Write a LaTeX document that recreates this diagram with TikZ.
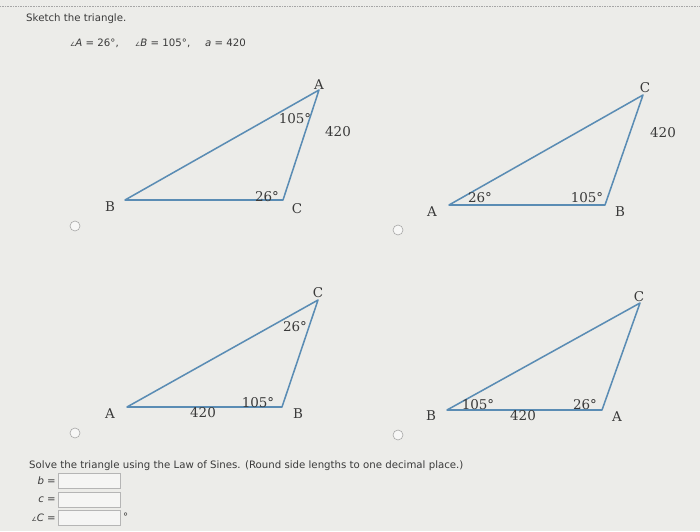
\documentclass[tikz,border=0pt]{standalone}
\usepackage{fontspec}
\setmainfont{DejaVu Serif}
\setsansfont{DejaVu Sans}
\usepackage{tikz}
\definecolor{tblue}{HTML}{5A8CB4}
\definecolor{pagebg}{HTML}{ECECE9}
\definecolor{ink}{HTML}{3A3A3A}
\definecolor{boxgray}{HTML}{B5B5B5}

\tikzset{
    side/.style={draw=tblue, line width=1.3pt, line join=round},
    lbl/.style={font=\fontsize{11.5}{13}\selectfont, text=ink, inner sep=0pt},
    qtext/.style={font=\sffamily\fontsize{8.7}{10}\selectfont, text=ink, inner sep=0pt},
    radio/.style={circle, draw=gray!70, fill=white!60!pagebg, minimum size=0.3cm, inner sep=0pt, line width=0.5pt},
    ansbox/.style={draw=boxgray, fill=white!50!pagebg, minimum width=1.86cm, minimum height=0.45cm, inner sep=0pt, line width=0.5pt}
}
\newcommand{\angmark}{{\fontsize{5}{6}\selectfont ∠}}

\begin{document}
\begin{tikzpicture}[x=0.03cm, y=-0.03cm]
            \fill[pagebg] (0,0) rectangle (700,531);
            \useasboundingbox (0,0) rectangle (700,531);
            \draw[densely dotted, gray!70] (0,6) -- (700,6);
            % question
            \node[qtext, anchor=west] (title) at (26,19) {Sketch the triangle.};
            \node[qtext, anchor=west] (gA) at (70,43) {\angmark\textit{A} = 26°,};
            \node[qtext, anchor=west] (gB) at (135,43) {\angmark\textit{B} = 105°,};
            \node[qtext, anchor=west] (ga) at (205,43) {\textit{a} = 420};
            % option 1
            \coordinate (b1) at (125,200);
            \coordinate (c1) at (283,200);
            \coordinate (a1) at (319,90);
            \draw[side] (b1) -- (c1) -- (a1) -- cycle;
            \node[lbl] (la1) at (319,85) {A};
            \node[lbl] (lb1) at (110,207) {B};
            \node[lbl] (lc1) at (297,209) {C};
            \node[lbl] (ta1) at (295,119) {105°};
            \node[lbl] (tc1) at (267,197) {26°};
            \node[lbl] (s1) at (338,132) {420};
            \node[radio] (opt1) at (75,226) {};
            % option 2
            \coordinate (a2) at (449,205);
            \coordinate (b2) at (605,205);
            \coordinate (c2) at (643,95);
            \draw[side] (a2) -- (b2) -- (c2) -- cycle;
            \node[lbl] (la2) at (432,212) {A};
            \node[lbl] (lb2) at (620,212) {B};
            \node[lbl] (lc2) at (645,88) {C};
            \node[lbl] (ta2) at (480,198) {26°};
            \node[lbl] (tb2) at (587,198) {105°};
            \node[lbl] (s2) at (663,133) {420};
            \node[radio] (opt2) at (398,230) {};
            % option 3
            \coordinate (a3) at (127,407);
            \coordinate (b3) at (282,407);
            \coordinate (c3) at (318,300);
            \draw[side] (a3) -- (b3) -- (c3) -- cycle;
            \node[lbl] (la3) at (110,414) {A};
            \node[lbl] (lb3) at (298,414) {B};
            \node[lbl] (lc3) at (318,293) {C};
            \node[lbl] (tc3) at (295,327) {26°};
            \node[lbl] (tb3) at (258,403) {105°};
            \node[lbl] (s3) at (203,413) {420};
            \node[radio] (opt3) at (75,433) {};
            % option 4
            \coordinate (b4) at (447,410);
            \coordinate (a4) at (602,410);
            \coordinate (c4) at (640,303);
            \draw[side] (b4) -- (a4) -- (c4) -- cycle;
            \node[lbl] (lb4) at (431,416) {B};
            \node[lbl] (la4) at (617,417) {A};
            \node[lbl] (lc4) at (639,297) {C};
            \node[lbl] (tb4) at (478,405) {105°};
            \node[lbl] (ta4) at (585,405) {26°};
            \node[lbl] (s4) at (523,416) {420};
            \node[radio] (opt4) at (398,435) {};
            % answers
            \node[qtext, anchor=west] (solve) at (29,466) {Solve the triangle using the Law of Sines. (Round side lengths to one decimal place.)};
            \node[ansbox] (boxb) at (89,481) {};
            \node[ansbox] (boxc) at (89,499.5) {};
            \node[ansbox] (boxC) at (89,518) {};
            \node[qtext, anchor=east] (eqb) at (56,481) {\textit{b} =};
            \node[qtext, anchor=east] (eqc) at (56,499.5) {\textit{c} =};
            \node[qtext, anchor=east] (eqC) at (56,518) {\angmark\textit{C} =};
            \node[qtext, anchor=west] (deg) at (123,517) {°};
\end{tikzpicture}
\end{document}
